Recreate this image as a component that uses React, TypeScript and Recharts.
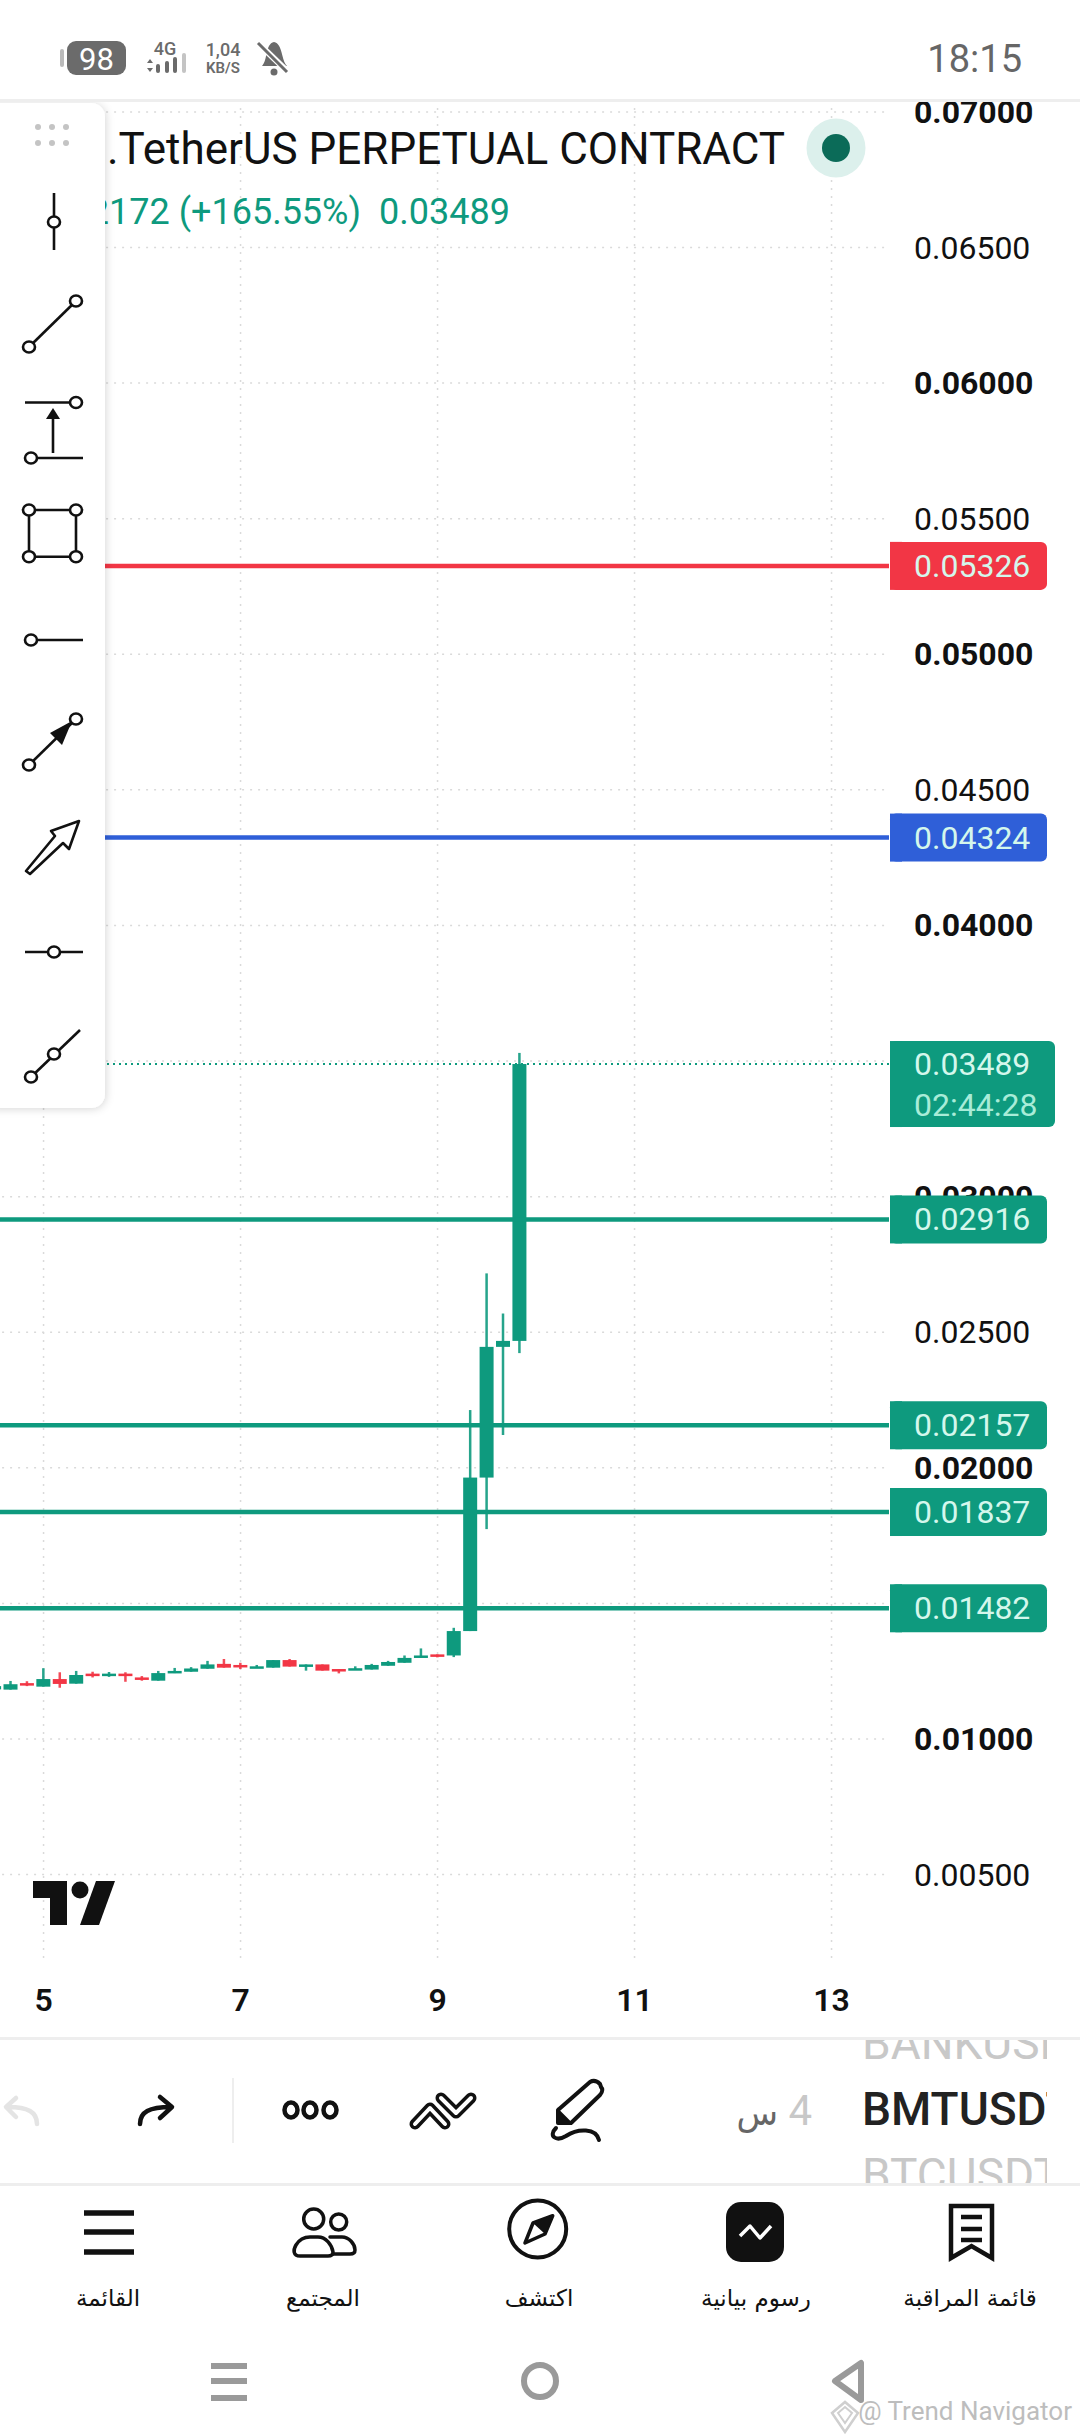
import { Bar, CartesianGrid, ComposedChart, ReferenceLine, XAxis, YAxis } from 'recharts';

const UP = '#0e9a7e';
const DOWN = '#f23645';
const BLUE = '#2f5fd8';
const SANS = 'Roboto, sans-serif';
const ARABIC = '"DejaVu Sans", sans-serif';

// 4h candles, first one is 4th 12:00
const opens = [
  0.01183, 0.01182, 0.01206, 0.01193, 0.01221, 0.01204, 0.01241, 0.01235, 0.01241, 0.01227, 0.01215,
  0.01243, 0.01248, 0.01259, 0.01277, 0.01273, 0.01263, 0.01263, 0.01291, 0.01272, 0.01275, 0.01258,
  0.01256, 0.01256, 0.0127, 0.01281, 0.013, 0.01312, 0.01308, 0.01398, 0.01964, 0.02446, 0.02468,
];
const highs = [
  0.01195, 0.01214, 0.01213, 0.01261, 0.01246, 0.01251, 0.01248, 0.01247, 0.01246, 0.01232, 0.01251,
  0.01262, 0.01265, 0.01288, 0.01295, 0.01281, 0.01273, 0.01291, 0.01295, 0.01275, 0.01275, 0.01258,
  0.01268, 0.01277, 0.01288, 0.01308, 0.01334, 0.01312, 0.0141, 0.02213, 0.02717, 0.02569, 0.0353,
];
const lows = [
  0.01183, 0.01182, 0.01195, 0.01193, 0.01189, 0.01204, 0.01227, 0.01229, 0.01211, 0.01215, 0.01215,
  0.01243, 0.01248, 0.01259, 0.01263, 0.01258, 0.01263, 0.01263, 0.01267, 0.01252, 0.01252, 0.01242,
  0.01256, 0.01256, 0.0127, 0.01281, 0.013, 0.01301, 0.01302, 0.01398, 0.01774, 0.02121, 0.02423,
];
const closes = [
  0.01195, 0.01202, 0.012, 0.01221, 0.01203, 0.01236, 0.01234, 0.01241, 0.01235, 0.01219, 0.01243,
  0.01251, 0.0126, 0.01275, 0.01263, 0.01267, 0.01268, 0.01291, 0.01267, 0.01275, 0.01252, 0.01253,
  0.01261, 0.01273, 0.01284, 0.01299, 0.01308, 0.01307, 0.01398, 0.01964, 0.02446, 0.02468, 0.03489,
];

const dayTicks = ['5', '7', '9', '11', '13'];
const priceTicks = [
  0.07, 0.065, 0.06, 0.055, 0.05, 0.045, 0.04, 0.035, 0.03, 0.025, 0.02, 0.015, 0.01, 0.005,
];
const priceDomain = [0.00185, 0.07044];
const resistanceLevels = [0.05326];
const midLevels = [0.04324];
const supportLevels = [0.02916, 0.02157, 0.01837, 0.01482];
const lastPrice = 0.03489;
const countdown = '02:44:28';

// bands of the x axis: 3 before the 5th, then up to 13th and a bit of empty space
const categories: string[] = [];
for (let i = 0; i < 55; i++) {
  const day = Math.floor((i - 3) / 6) + 5;
  const isMidnight = (i - 3) % 6 === 0;
  categories.push(isMidnight ? String(day) : `${day}-${((i - 3 + 60) % 6) * 4}h`);
}

const rows = categories.map((t, i) => ({
  t,
  open: opens[i],
  close: closes[i],
  high: highs[i],
  low: lows[i],
  range: i < opens.length ? [lows[i], highs[i]] : null,
}));

const chartProps = {
  width: 1080,
  height: 2040,
  data: rows,
  margin: { top: 100, right: 0, bottom: 0, left: -13.9 },
  barCategoryGap: 0,
};

function Candle(props: any) {
  const { x, y, width, height, payload } = props;
  if (payload.range == null) return null;
  const color = payload.close >= payload.open ? UP : DOWN;
  const perUnit = height / (payload.high - payload.low);
  const top = y + (payload.high - Math.max(payload.open, payload.close)) * perUnit;
  const bodyH = Math.abs(payload.close - payload.open) * perUnit;
  return (
    <g>
      <rect x={x + width / 2 - 1.25} y={y} width={2.5} height={height} fill={color} opacity={0.9} />
      <rect x={x} y={top} width={width} height={Math.max(bodyH, 2.5)} fill={color} />
    </g>
  );
}

function PriceTick(props: any) {
  const { y, payload } = props;
  const bold = Math.round(payload.value * 100000) % 1000 === 0;
  return (
    <text x={914} y={y} dy={11} fontFamily={SANS} fontSize={32} fontWeight={bold ? 700 : 400} fill="#111">
      {payload.value.toFixed(5)}
    </text>
  );
}

function DayTick(props: any) {
  const { x, payload } = props;
  return (
    <text x={x} y={2011} textAnchor="middle" fontFamily={SANS} fontSize={32} fontWeight={600} fill="#111">
      {payload.value}
    </text>
  );
}

function PriceTag({ viewBox, value, color }: any) {
  const cy = viewBox.y;
  return (
    <g>
      <rect x={890} y={cy - 24} width={157} height={48} rx={6} fill={color} />
      <rect x={890} y={cy - 24} width={12} height={48} fill={color} />
      <text x={914} y={cy + 11} fontFamily={SANS} fontSize={32} fill="#d4f7ec">
        {value.toFixed(5)}
      </text>
    </g>
  );
}

function LastTag({ viewBox }: any) {
  const top = viewBox.y - 23;
  return (
    <g>
      <rect x={890} y={top} width={165} height={86} rx={6} fill={UP} />
      <rect x={890} y={top} width={12} height={86} fill={UP} />
      <text x={914} y={top + 34} fontFamily={SANS} fontSize={32} fill="#d4f7ec">
        {lastPrice.toFixed(5)}
      </text>
      <text x={914} y={top + 75} fontFamily={SANS} fontSize={32} fill="#a8ecd8">
        {countdown}
      </text>
    </g>
  );
}

function Node({ x, y }: { x: number; y: number }) {
  return <ellipse cx={x} cy={y} rx={6} ry={5.5} fill="#fff" stroke="#111" strokeWidth={2.6} />;
}

function DrawingToolbar() {
  const line = { stroke: '#111', strokeWidth: 2.6, fill: 'none' };
  return (
    <g>
      <rect x={-20} y={103} width={125} height={1005} rx={14} fill="#fff" filter="url(#panelShadow)" />
      {[38, 52, 66].map((x) =>
        [127, 143].map((y) => <circle key={`${x}${y}`} cx={x} cy={y} r={3} fill="#c4c4c4" />),
      )}
      <path d="M54 193V250" {...line} />
      <Node x={54} y={222} />
      <path d="M29 347L76 301" {...line} />
      <Node x={29} y={347} />
      <Node x={76} y={301} />
      <path d="M25 402.5H76M31 458H83M53 453V418" {...line} />
      <path d="M46 419L53 408L60 419Z" fill="#111" />
      <Node x={76} y={402.5} />
      <Node x={31} y={458} />
      <path d="M29 510H76V556.7H29Z" {...line} />
      <Node x={29} y={510} />
      <Node x={76} y={510} />
      <Node x={29} y={556.7} />
      <Node x={76} y={556.7} />
      <path d="M31 640H83" {...line} />
      <Node x={31} y={640} />
      <path d="M29 765L76 719" {...line} />
      <path d="M50 733L72 721L62 745Z" fill="#111" />
      <Node x={29} y={765} />
      <Node x={76} y={719} />
      <path d="M26 871L55 836L51 831L79 821L69 849L63 843L30 874Z" {...line} strokeLinejoin="round" />
      <path d="M25 952H83" {...line} />
      <Node x={54} y={952} />
      <path d="M31 1077L80 1030" {...line} />
      <Node x={31} y={1077} />
      <Node x={54} y={1054} />
    </g>
  );
}

function StatusBar() {
  const grey = '#6b6b6b';
  return (
    <g>
      <rect x={0} y={0} width={1080} height={100} fill="#fff" />
      <rect x={0} y={99} width={1080} height={3} fill="#eeeeee" />
      <rect x={60} y={49} width={4} height={18} rx={2} fill="#bbb" />
      <rect x={67} y={41} width={59} height={34} rx={9} fill={grey} />
      <text x={96.5} y={70} textAnchor="middle" fontFamily={SANS} fontSize={31} fill="#fff">98</text>
      <text x={165} y={55} textAnchor="middle" fontFamily={SANS} fontSize={18} fontWeight={500} fill={grey}>4G</text>
      <path d="M147 63l3-4 3 4zM147 68l3 4 3-4z" fill={grey} />
      <rect x={156} y={64} width={4} height={9} rx={2} fill={grey} />
      <rect x={165} y={61} width={4} height={12} rx={2} fill={grey} />
      <rect x={173} y={57} width={4} height={16} rx={2} fill={grey} />
      <rect x={182} y={53} width={4} height={20} rx={2} fill="#c4c4c4" />
      <text x={223} y={56} textAnchor="middle" fontFamily={SANS} fontSize={18} fontWeight={500} fill={grey}>1,04</text>
      <text x={223} y={73} textAnchor="middle" fontFamily={SANS} fontSize={15} fontWeight={600} fill={grey}>KB/S</text>
      <path d="M262 66C268 60 265 44 274 42C283 44 281 60 287 66Z" fill={grey} />
      <circle cx={274} cy={72} r={3.5} fill={grey} />
      <path d="M259 44L288 72" stroke="#fff" strokeWidth={6} />
      <path d="M258 43L287 72" stroke={grey} strokeWidth={3} />
      <text x={1022} y={72} textAnchor="end" fontFamily={SANS} fontSize={38} fill="#666">18:15</text>
    </g>
  );
}

function BottomBars() {
  const dark = { stroke: '#111', strokeWidth: 4.5, fill: 'none', strokeLinecap: 'round' as const, strokeLinejoin: 'round' as const };
  const tabLabels = [
    { text: 'القائمة', x: 108 },
    { text: 'المجتمع', x: 323 },
    { text: 'اكتشف', x: 539 },
    { text: 'رسوم بيانية', x: 756 },
    { text: 'قائمة المراقبة', x: 970 },
  ];
  const navGrey = '#9a9a9a';
  return (
    <g>
      <rect x={0} y={2037} width={1080} height={399} fill="#fff" />
      <rect x={0} y={2037} width={1080} height={3} fill="#eeeeee" />
      <rect x={0} y={2183} width={1080} height={3} fill="#eeeeee" />

      {/* undo / redo */}
      <path d="M37 2124C37 2112 28 2107 8 2107M16 2098L6 2107L16 2117" {...dark} stroke="#e4e4e4" />
      <path d="M140 2124C140 2112 149 2107 171 2107M160 2097L172 2107L160 2118" {...dark} />
      <rect x={232} y={2078} width={2} height={65} fill="#eeeeee" />
      <ellipse cx={291} cy={2110} rx={6.5} ry={7.5} {...dark} />
      <ellipse cx={310} cy={2110} rx={6.5} ry={7.5} {...dark} />
      <ellipse cx={330} cy={2110} rx={6.5} ry={7.5} {...dark} />

      {/* chart type, a band with a white core */}
      <path d="M415 2124L430 2108L445 2124M441 2098L456 2113L471 2098" {...dark} strokeWidth={11} />
      <path d="M415 2124L430 2108L445 2124M441 2098L456 2113L471 2098" {...dark} stroke="#fff" strokeWidth={4} />

      {/* pencil */}
      <path d="M558 2110L590 2082Q595 2079 600 2084L601 2087Q604 2090 600 2095L571 2123H558Z" {...dark} strokeWidth={4} />
      <path d="M558 2110V2123H571Z" fill="#111" stroke="#111" strokeWidth={2} />
      <path d="M556 2128C548 2136 556 2142 566 2136C578 2128 596 2128 599 2140" {...dark} strokeWidth={4} />

      {/* interval and symbol picker */}
      <text x={812} y={2125} textAnchor="end" fontFamily={SANS} fontSize={42} fill="#c8c8c8">4</text>
      <text x={778} y={2125} textAnchor="end" fontFamily={ARABIC} fontSize={34} fill="#666">س</text>
      <g clipPath="url(#symbolClip)" fontFamily={SANS}>
        <text x={862} y={2059} fontSize={46} fill="#c8c8c8">BANKUSDT</text>
        <text x={862} y={2125} fontSize={46} fontWeight={500} fill="#222">BMTUSDT</text>
        <text x={862} y={2191} fontSize={46} fill="#c8c8c8">BTCUSDT</text>
      </g>

      {/* tab bar */}
      <path d="M84 2213H134M84 2232H134M84 2252H134" {...dark} strokeWidth={5.5} strokeLinecap="butt" />
      <circle cx={313.7} cy={2219} r={10} {...dark} strokeWidth={3.5} />
      <circle cx={338.7} cy={2222} r={8} {...dark} strokeWidth={3.5} />
      <path d="M300 2256C293 2256 293 2250 296 2245C299 2240 304 2237 310 2237H318C326 2237 332 2245 333 2252C333 2255 331 2256 328 2256Z" {...dark} strokeWidth={3.5} />
      <path d="M330 2237H342C349 2237 355 2244 355 2250C355 2253 353 2254 350 2254H333" {...dark} strokeWidth={3.5} />
      <circle cx={537.7} cy={2229} r={28.5} {...dark} strokeWidth={4} />
      <path d="M552.7 2215.7L545 2234L525 2243L533 2223Z" {...dark} strokeWidth={3.5} />
      <path d="M552.7 2215.7L545 2234L533 2223Z" fill="#111" />
      <rect x={726} y={2202} width={58} height={60} rx={15} fill="#111" />
      <path d="M740 2236L750 2226L760 2238L771 2226" stroke="#fff" strokeWidth={3.5} fill="none" strokeLinejoin="round" />
      <path d="M951 2206H992V2258L971.5 2246L951 2258Z" {...dark} strokeLinecap="butt" strokeLinejoin="miter" />
      <path d="M961 2217H982M961 2229H982M961 2240H982" {...dark} strokeLinecap="butt" />
      {tabLabels.map((l) => (
        <text key={l.x} x={l.x} y={2306} textAnchor="middle" direction="rtl" fontFamily={ARABIC} fontSize={23} fill="#111">
          {l.text}
        </text>
      ))}

      {/* android nav */}
      <path d="M211 2366H247M211 2381H247M211 2398H247" stroke={navGrey} strokeWidth={6} />
      <circle cx={540} cy={2381} r={16} stroke={navGrey} strokeWidth={6} fill="none" />
      <path d="M861 2363V2400L835 2381Z" stroke={navGrey} strokeWidth={6} fill="none" strokeLinejoin="round" />
      <path d="M832 2413L845 2402L858 2413L845 2432Z" stroke="#cfcfcf" strokeWidth={2.5} fill="none" />
      <path d="M838 2413L845 2407L852 2413L845 2423Z" stroke="#cfcfcf" strokeWidth={2} fill="none" />
      <text x={1072} y={2420} textAnchor="end" fontFamily={SANS} fontSize={26} fill="#bdbdbd">@ Trend Navigator</text>
    </g>
  );
}

export default function App() {
  return (
    <div style={{ position: 'absolute', left: 0, top: 0, width: 1080, height: 2436, background: '#fff', overflow: 'hidden' }}>
      <ComposedChart {...chartProps}>
        <CartesianGrid stroke="#dadada" strokeWidth={1.5} strokeDasharray="2 6" syncWithTicks />
        <XAxis
          dataKey="t"
          ticks={dayTicks}
          interval={0}
          height={80}
          axisLine={false}
          tickLine={false}
          tick={<DayTick />}
        />
        <YAxis
          orientation="right"
          type="number"
          width={191}
          domain={priceDomain}
          ticks={priceTicks}
          allowDataOverflow
          axisLine={false}
          tickLine={false}
          tick={<PriceTick />}
        />
        {resistanceLevels.map((v) => (
          <ReferenceLine key={v} y={v} stroke={DOWN} strokeWidth={4.5} />
        ))}
        {midLevels.map((v) => (
          <ReferenceLine key={v} y={v} stroke={BLUE} strokeWidth={4.5} />
        ))}
        {supportLevels.map((v) => (
          <ReferenceLine key={v} y={v} stroke={UP} strokeWidth={4.5} />
        ))}
        <ReferenceLine y={lastPrice} stroke={UP} strokeWidth={2} strokeDasharray="2 4" />
        <Bar dataKey="range" barSize={14} shape={<Candle />} isAnimationActive={false} />
      </ComposedChart>

      {/* price tags sit over the axis labels, so they get their own chart on top */}
      <div style={{ position: 'absolute', left: 0, top: 0 }}>
        <ComposedChart {...chartProps}>
          <XAxis dataKey="t" height={80} axisLine={false} tickLine={false} tick={false} />
          <YAxis
            orientation="right"
            type="number"
            width={191}
            domain={priceDomain}
            allowDataOverflow
            axisLine={false}
            tickLine={false}
            tick={false}
          />
          {resistanceLevels.map((v) => (
            <ReferenceLine key={v} y={v} stroke="none" label={(p: any) => <PriceTag {...p} value={v} color={DOWN} />} />
          ))}
          {midLevels.map((v) => (
            <ReferenceLine key={v} y={v} stroke="none" label={(p: any) => <PriceTag {...p} value={v} color={BLUE} />} />
          ))}
          {supportLevels.map((v) => (
            <ReferenceLine key={v} y={v} stroke="none" label={(p: any) => <PriceTag {...p} value={v} color={UP} />} />
          ))}
          <ReferenceLine y={lastPrice} stroke="none" label={(p: any) => <LastTag {...p} />} />
        </ComposedChart>
      </div>

      <svg width={1080} height={2436} style={{ position: 'absolute', left: 0, top: 0, pointerEvents: 'none' }}>
        <defs>
          <filter id="panelShadow" x="-30%" y="-5%" width="160%" height="110%">
            <feDropShadow dx={1} dy={1} stdDeviation={4} floodColor="#000" floodOpacity={0.16} />
          </filter>
          <clipPath id="symbolClip">
            <rect x={850} y={2040} width={197} height={143} />
          </clipPath>
        </defs>

        {/* legend, runs under the drawing toolbar */}
        <text x={785} y={164} textAnchor="end" fontFamily={SANS} fontSize={44} fill="#111">
          .TetherUS PERPETUAL CONTRACT
        </text>
        <text x={361} y={224} textAnchor="end" fontFamily={SANS} fontSize={36} fill={UP}>
          +0.02172 (+165.55%)
        </text>
        <text x={379} y={224} fontFamily={SANS} fontSize={36} fill={UP}>
          0.03489
        </text>
        <circle cx={836} cy={148} r={29.5} fill="#dcf0ec" />
        <circle cx={836} cy={148} r={14} fill="#0b6b58" />

        {/* tradingview mark */}
        <path d="M33 1881H67V1925H50V1898H33Z" fill="#111" />
        <circle cx={80} cy={1890} r={8.5} fill="#111" />
        <path d="M96 1881H115L99 1925H80Z" fill="#111" />

        <DrawingToolbar />
        <StatusBar />
        <BottomBars />
      </svg>
    </div>
  );
}
